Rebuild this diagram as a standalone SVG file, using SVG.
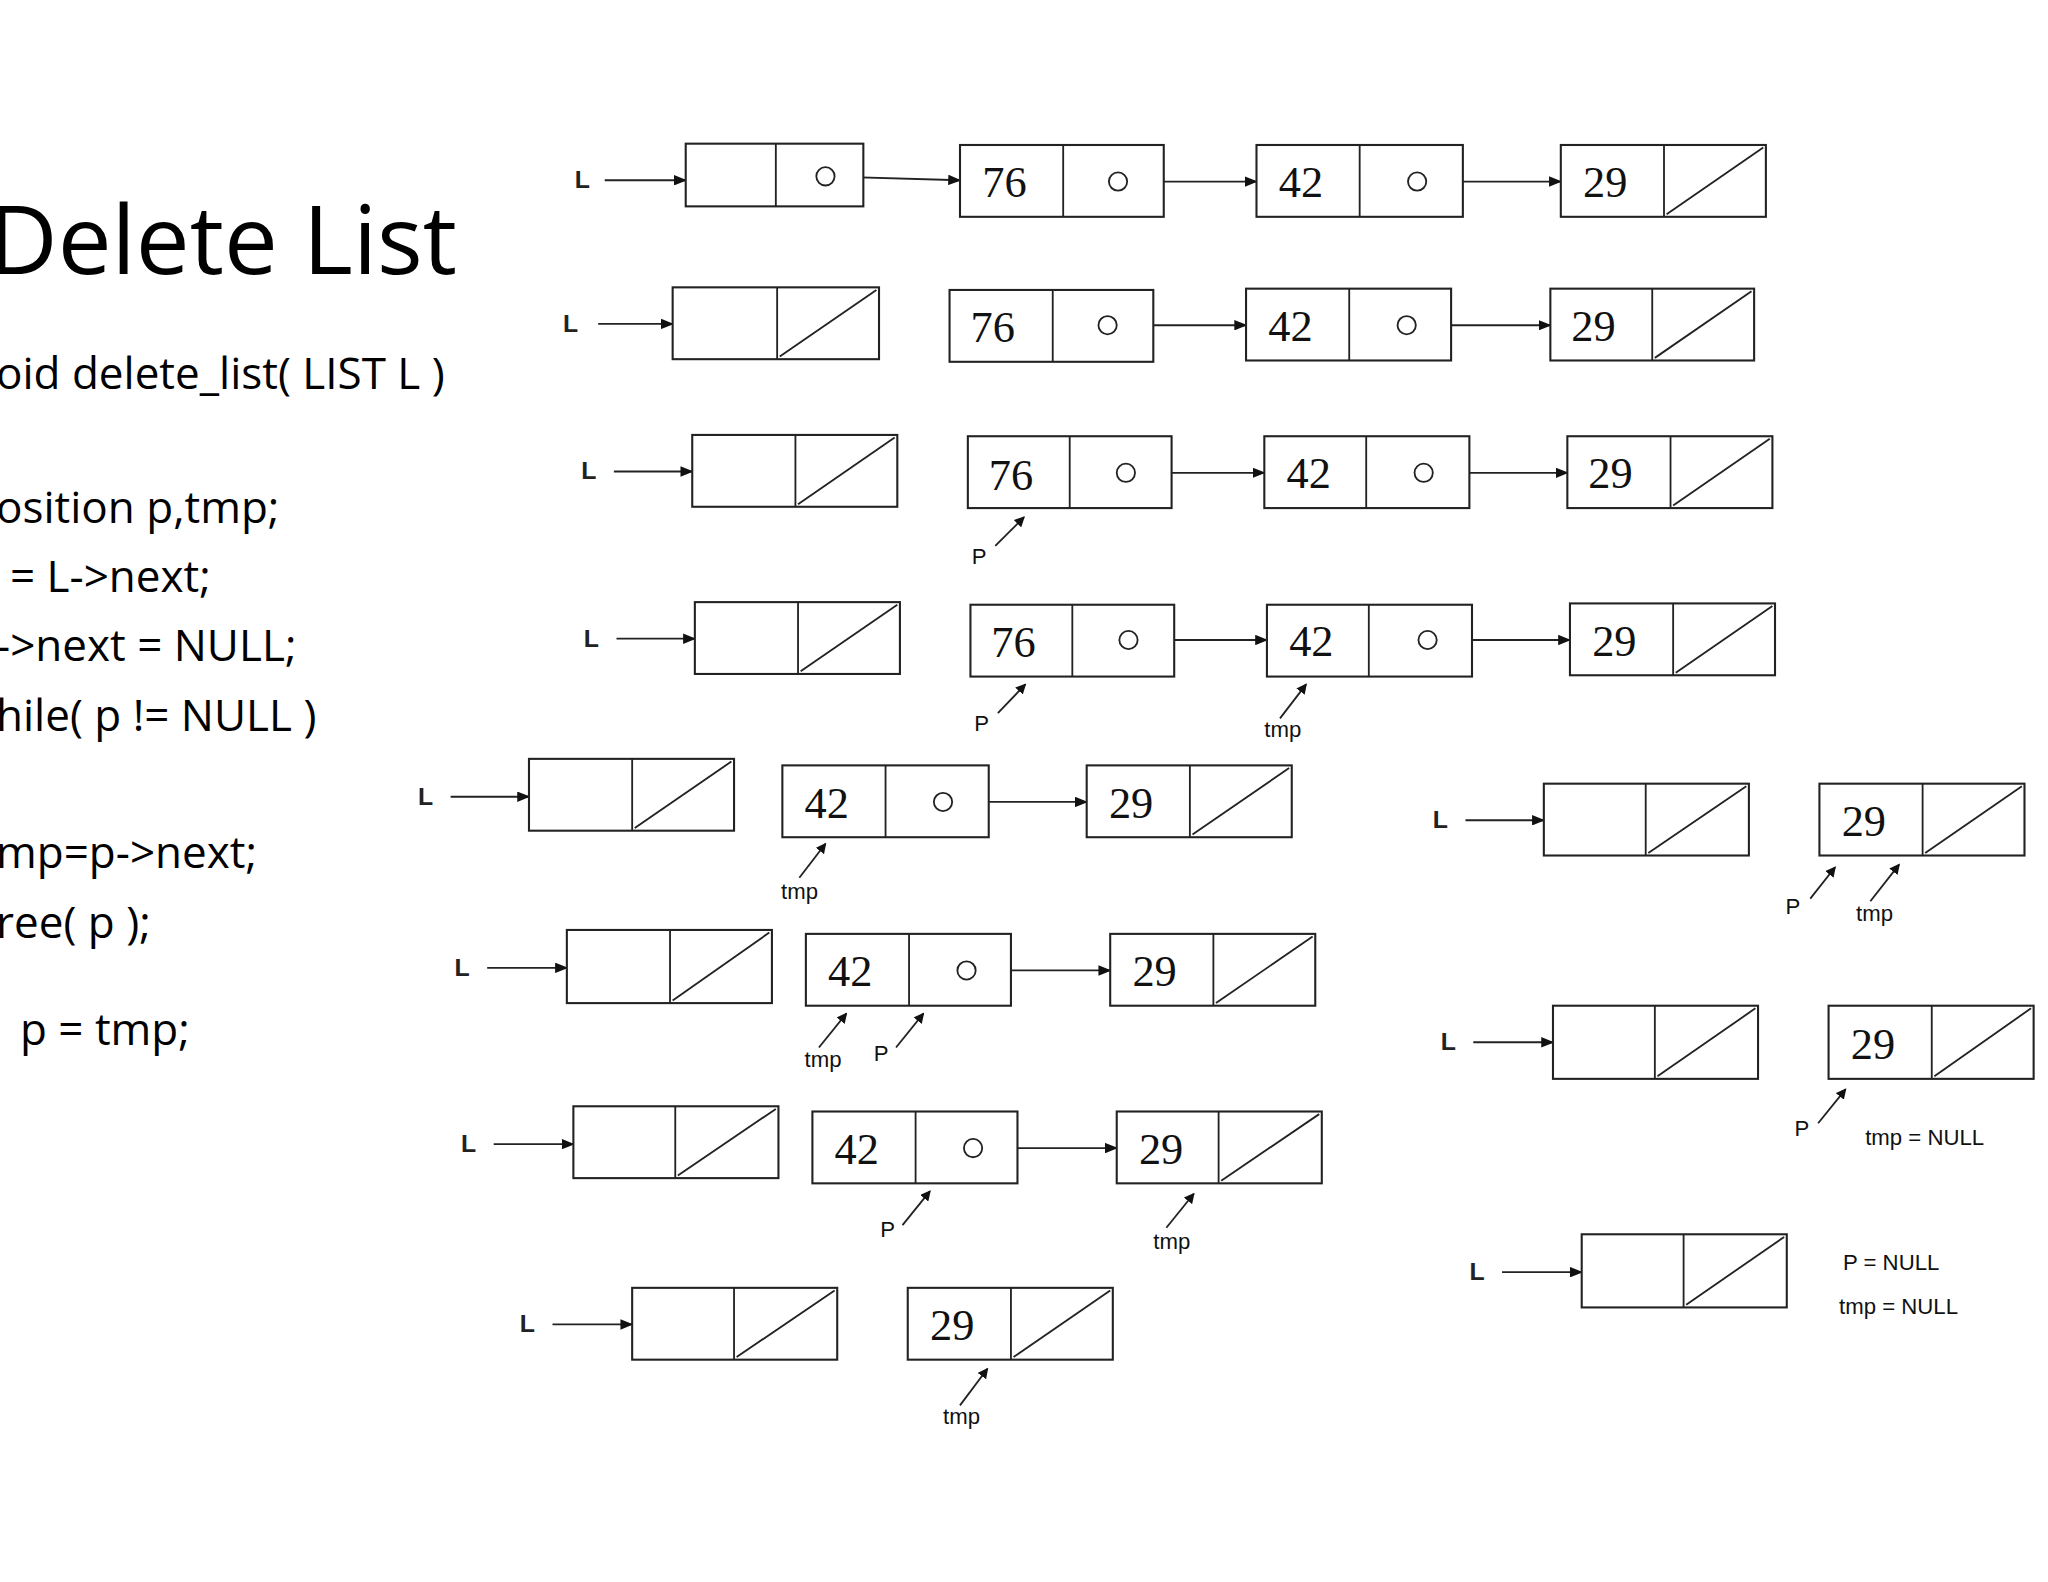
<svg xmlns="http://www.w3.org/2000/svg" width="2048" height="1582" viewBox="0 0 2048 1582">
<defs>
<marker id="ah" markerWidth="10" markerHeight="8" refX="9" refY="4" orient="auto" markerUnits="userSpaceOnUse"><path d="M0,0 L10,4 L0,8 z" fill="#111"/></marker>
<marker id="sa" markerWidth="8" markerHeight="8" refX="7" refY="4" orient="auto" markerUnits="userSpaceOnUse"><path d="M0,0 L8,4 L0,8 z" fill="#111"/></marker>
</defs>
<style>
.b{fill:#fff;stroke:#222;stroke-width:1.6}
.l{stroke:#222;stroke-width:1.4;fill:none}
.c{fill:#fff;stroke:#222;stroke-width:1.4}
.n{font-family:"Liberation Serif",serif;font-size:34px;fill:#111}
.s{font-family:"Liberation Sans",sans-serif;font-size:17px;fill:#111}
.L{font-family:"Liberation Sans",sans-serif;font-size:19px;font-weight:bold;fill:#222}
.code{font-family:"Open Sans","Liberation Sans",sans-serif;font-size:44px;fill:#000}
</style>
<rect width="2048" height="1582" fill="#fff"/>
<text x="-12" y="274" font-family="Open Sans, Liberation Sans, sans-serif" font-size="96" fill="#000">Delete List</text>
<g class="code">
<text x="-4" y="389">oid delete_list( LIST L )</text>
<text x="-4" y="523">osition p,tmp;</text>
<text x="10" y="592">= L-&gt;next;</text>
<text x="-4" y="661">-&gt;next = NULL;</text>
<text x="-4" y="731">hile( p != NULL )</text>
<text x="-4" y="868">mp=p-&gt;next;</text>
<text x="-4" y="938">ree( p );</text>
<text x="20" y="1045">p = tmp;</text>
</g>
<g transform="scale(1.30612)">
<g id="connectors">
<line class="l" x1="463" y1="138" x2="525" y2="138" marker-end="url(#ah)"/>
<line class="l" x1="632" y1="135" x2="735" y2="138" marker-end="url(#ah)"/>
<line class="l" x1="856" y1="139" x2="962" y2="139" marker-end="url(#ah)"/>
<line class="l" x1="1085" y1="139" x2="1195" y2="139" marker-end="url(#ah)"/>
<line class="l" x1="458" y1="248" x2="515" y2="248" marker-end="url(#ah)"/>
<line class="l" x1="848" y1="249" x2="954" y2="249" marker-end="url(#ah)"/>
<line class="l" x1="1077" y1="249" x2="1187" y2="249" marker-end="url(#ah)"/>
<line class="l" x1="470" y1="361" x2="530" y2="361" marker-end="url(#ah)"/>
<line class="l" x1="862" y1="362" x2="968" y2="362" marker-end="url(#ah)"/>
<line class="l" x1="1090" y1="362" x2="1200" y2="362" marker-end="url(#ah)"/>
<line class="l" x1="472" y1="489" x2="532" y2="489" marker-end="url(#ah)"/>
<line class="l" x1="864" y1="490" x2="970" y2="490" marker-end="url(#ah)"/>
<line class="l" x1="1093" y1="490" x2="1202" y2="490" marker-end="url(#ah)"/>
<line class="l" x1="345" y1="610" x2="405" y2="610" marker-end="url(#ah)"/>
<line class="l" x1="722" y1="614" x2="832" y2="614" marker-end="url(#ah)"/>
<line class="l" x1="373" y1="741" x2="434" y2="741" marker-end="url(#ah)"/>
<line class="l" x1="740" y1="743" x2="850" y2="743" marker-end="url(#ah)"/>
<line class="l" x1="378" y1="876" x2="439" y2="876" marker-end="url(#ah)"/>
<line class="l" x1="745" y1="879" x2="855" y2="879" marker-end="url(#ah)"/>
<line class="l" x1="423" y1="1014" x2="484" y2="1014" marker-end="url(#ah)"/>
<line class="l" x1="1122" y1="628" x2="1182" y2="628" marker-end="url(#ah)"/>
<line class="l" x1="1128" y1="798" x2="1189" y2="798" marker-end="url(#ah)"/>
<line class="l" x1="1150" y1="974" x2="1211" y2="974" marker-end="url(#ah)"/>
<line class="l" x1="762" y1="418" x2="784" y2="396" marker-end="url(#sa)"/>
<line class="l" x1="764" y1="546" x2="785" y2="524" marker-end="url(#sa)"/>
<line class="l" x1="980" y1="550" x2="1000" y2="524" marker-end="url(#sa)"/>
<line class="l" x1="612" y1="672" x2="632" y2="646" marker-end="url(#sa)"/>
<line class="l" x1="627" y1="802" x2="648" y2="776" marker-end="url(#sa)"/>
<line class="l" x1="686" y1="802" x2="707" y2="776" marker-end="url(#sa)"/>
<line class="l" x1="691" y1="938" x2="712" y2="912" marker-end="url(#sa)"/>
<line class="l" x1="893" y1="940" x2="914" y2="914" marker-end="url(#sa)"/>
<line class="l" x1="735" y1="1076" x2="756" y2="1048" marker-end="url(#sa)"/>
<line class="l" x1="1386" y1="688" x2="1405" y2="664" marker-end="url(#sa)"/>
<line class="l" x1="1432" y1="690" x2="1454" y2="662" marker-end="url(#sa)"/>
<line class="l" x1="1392" y1="860" x2="1413" y2="834" marker-end="url(#sa)"/>
</g>
<g class="L">
<text x="440" y="144">L</text><text x="431" y="254">L</text><text x="445" y="367">L</text><text x="447" y="495">L</text>
<text x="320" y="616">L</text><text x="348" y="747">L</text><text x="353" y="882">L</text><text x="398" y="1020">L</text>
<text x="1097" y="634">L</text><text x="1103" y="804">L</text><text x="1125" y="980">L</text>
</g>
<g class="s">
<text x="744" y="432">P</text><text x="746" y="560">P</text><text x="968" y="564">tmp</text>
<text x="598" y="688">tmp</text><text x="616" y="817">tmp</text><text x="669" y="812">P</text>
<text x="674" y="947">P</text><text x="883" y="956">tmp</text><text x="722" y="1090">tmp</text>
<text x="1367" y="700">P</text><text x="1421" y="705">tmp</text>
<text x="1374" y="870">P</text><text x="1428" y="877">tmp  = NULL</text>
<text x="1411" y="972">P  = NULL</text><text x="1408" y="1006">tmp  = NULL</text>
</g>
<g id="r1a"><rect class="b" x="525" y="110" width="136" height="48"/><line class="l" x1="594" y1="110" x2="594" y2="158"/><circle class="c" cx="632" cy="135" r="7"/></g>
<g id="r1b"><rect class="b" x="735" y="111" width="156" height="55"/><line class="l" x1="814" y1="111" x2="814" y2="166"/><circle class="c" cx="856" cy="139" r="7"/><text class="n" x="752" y="151">76</text></g>
<g id="r1c"><rect class="b" x="962" y="111" width="158" height="55"/><line class="l" x1="1041" y1="111" x2="1041" y2="166"/><circle class="c" cx="1085" cy="139" r="7"/><text class="n" x="979" y="151">42</text></g>
<g id="r1d"><rect class="b" x="1195" y="111" width="157" height="55"/><line class="l" x1="1274" y1="111" x2="1274" y2="166"/><line class="l" x1="1276" y1="164" x2="1350" y2="113"/><text class="n" x="1212" y="151">29</text></g>

<g id="r2a"><rect class="b" x="515" y="220" width="158" height="55"/><line class="l" x1="595" y1="220" x2="595" y2="275"/><line class="l" x1="597" y1="273" x2="671" y2="222"/></g>
<g id="r2b"><rect class="b" x="727" y="222" width="156" height="55"/><line class="l" x1="806" y1="222" x2="806" y2="277"/><circle class="c" cx="848" cy="249" r="7"/><text class="n" x="743" y="262">76</text></g>
<g id="r2c"><rect class="b" x="954" y="221" width="157" height="55"/><line class="l" x1="1033" y1="221" x2="1033" y2="276"/><circle class="c" cx="1077" cy="249" r="7"/><text class="n" x="971" y="261">42</text></g>
<g id="r2d"><rect class="b" x="1187" y="221" width="156" height="55"/><line class="l" x1="1265" y1="221" x2="1265" y2="276"/><line class="l" x1="1267" y1="274" x2="1341" y2="223"/><text class="n" x="1203" y="261">29</text></g>

<g id="r3a"><rect class="b" x="530" y="333" width="157" height="55"/><line class="l" x1="609" y1="333" x2="609" y2="388"/><line class="l" x1="611" y1="386" x2="685" y2="335"/></g>
<g id="r3b"><rect class="b" x="741" y="334" width="156" height="55"/><line class="l" x1="819" y1="334" x2="819" y2="389"/><circle class="c" cx="862" cy="362" r="7"/><text class="n" x="757" y="375">76</text></g>
<g id="r3c"><rect class="b" x="968" y="334" width="157" height="55"/><line class="l" x1="1046" y1="334" x2="1046" y2="389"/><circle class="c" cx="1090" cy="362" r="7"/><text class="n" x="985" y="374">42</text></g>
<g id="r3d"><rect class="b" x="1200" y="334" width="157" height="55"/><line class="l" x1="1279" y1="334" x2="1279" y2="389"/><line class="l" x1="1281" y1="387" x2="1355" y2="336"/><text class="n" x="1216" y="374">29</text></g>

<g id="r4a"><rect class="b" x="532" y="461" width="157" height="55"/><line class="l" x1="611" y1="461" x2="611" y2="516"/><line class="l" x1="613" y1="514" x2="687" y2="463"/></g>
<g id="r4b"><rect class="b" x="743" y="463" width="156" height="55"/><line class="l" x1="821" y1="463" x2="821" y2="518"/><circle class="c" cx="864" cy="490" r="7"/><text class="n" x="759" y="503">76</text></g>
<g id="r4c"><rect class="b" x="970" y="463" width="157" height="55"/><line class="l" x1="1048" y1="463" x2="1048" y2="518"/><circle class="c" cx="1093" cy="490" r="7"/><text class="n" x="987" y="502">42</text></g>
<g id="r4d"><rect class="b" x="1202" y="462" width="157" height="55"/><line class="l" x1="1281" y1="462" x2="1281" y2="517"/><line class="l" x1="1283" y1="515" x2="1357" y2="464"/><text class="n" x="1219" y="502">29</text></g>

<g id="r5a"><rect class="b" x="405" y="581" width="157" height="55"/><line class="l" x1="484" y1="581" x2="484" y2="636"/><line class="l" x1="486" y1="634" x2="560" y2="583"/></g>
<g id="r5b"><rect class="b" x="599" y="586" width="158" height="55"/><line class="l" x1="678" y1="586" x2="678" y2="641"/><circle class="c" cx="722" cy="614" r="7"/><text class="n" x="616" y="626">42</text></g>
<g id="r5c"><rect class="b" x="832" y="586" width="157" height="55"/><line class="l" x1="911" y1="586" x2="911" y2="641"/><line class="l" x1="913" y1="639" x2="987" y2="588"/><text class="n" x="849" y="626">29</text></g>

<g id="r6a"><rect class="b" x="434" y="712" width="157" height="56"/><line class="l" x1="513" y1="712" x2="513" y2="768"/><line class="l" x1="515" y1="766" x2="589" y2="714"/></g>
<g id="r6b"><rect class="b" x="617" y="715" width="157" height="55"/><line class="l" x1="696" y1="715" x2="696" y2="770"/><circle class="c" cx="740" cy="743" r="7"/><text class="n" x="634" y="755">42</text></g>
<g id="r6c"><rect class="b" x="850" y="715" width="157" height="55"/><line class="l" x1="929" y1="715" x2="929" y2="770"/><line class="l" x1="931" y1="768" x2="1005" y2="717"/><text class="n" x="867" y="755">29</text></g>

<g id="r7a"><rect class="b" x="439" y="847" width="157" height="55"/><line class="l" x1="517" y1="847" x2="517" y2="902"/><line class="l" x1="519" y1="900" x2="594" y2="849"/></g>
<g id="r7b"><rect class="b" x="622" y="851" width="157" height="55"/><line class="l" x1="701" y1="851" x2="701" y2="906"/><circle class="c" cx="745" cy="879" r="7"/><text class="n" x="639" y="891">42</text></g>
<g id="r7c"><rect class="b" x="855" y="851" width="157" height="55"/><line class="l" x1="933" y1="851" x2="933" y2="906"/><line class="l" x1="935" y1="904" x2="1010" y2="853"/><text class="n" x="872" y="891">29</text></g>

<g id="r8a"><rect class="b" x="484" y="986" width="157" height="55"/><line class="l" x1="562" y1="986" x2="562" y2="1041"/><line class="l" x1="564" y1="1039" x2="639" y2="988"/></g>
<g id="r8b"><rect class="b" x="695" y="986" width="157" height="55"/><line class="l" x1="774" y1="986" x2="774" y2="1041"/><line class="l" x1="776" y1="1039" x2="850" y2="988"/><text class="n" x="712" y="1026">29</text></g>

<g id="q1a"><rect class="b" x="1182" y="600" width="157" height="55"/><line class="l" x1="1260" y1="600" x2="1260" y2="655"/><line class="l" x1="1262" y1="653" x2="1337" y2="602"/></g>
<g id="q1b"><rect class="b" x="1393" y="600" width="157" height="55"/><line class="l" x1="1472" y1="600" x2="1472" y2="655"/><line class="l" x1="1474" y1="653" x2="1548" y2="602"/><text class="n" x="1410" y="640">29</text></g>
<g id="q2a"><rect class="b" x="1189" y="770" width="157" height="56"/><line class="l" x1="1267" y1="770" x2="1267" y2="826"/><line class="l" x1="1269" y1="824" x2="1344" y2="772"/></g>
<g id="q2b"><rect class="b" x="1400" y="770" width="157" height="56"/><line class="l" x1="1479" y1="770" x2="1479" y2="826"/><line class="l" x1="1481" y1="824" x2="1555" y2="772"/><text class="n" x="1417" y="811">29</text></g>
<g id="q3a"><rect class="b" x="1211" y="945" width="157" height="56"/><line class="l" x1="1289" y1="945" x2="1289" y2="1001"/><line class="l" x1="1291" y1="999" x2="1366" y2="947"/></g>
</g>
</svg>
